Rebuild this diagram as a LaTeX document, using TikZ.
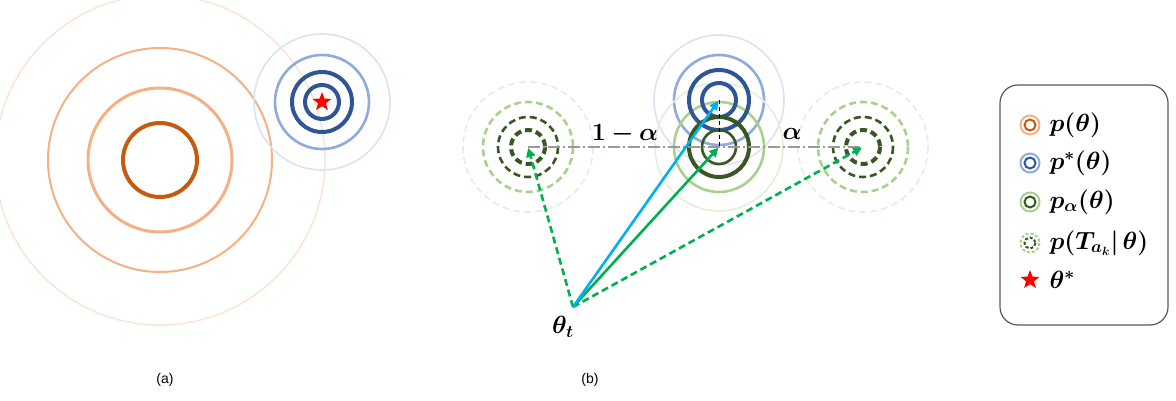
\documentclass[tikz,border=0pt]{standalone}
\usepackage{bm}
\usepackage{fontspec}
\newfontfamily\sansf{Liberation Sans}
\usetikzlibrary{shapes.geometric,arrows.meta}
\definecolor{oD}{HTML}{C55A11}\definecolor{oM}{HTML}{F4B183}\definecolor{oF}{HTML}{FBE5D6}
\definecolor{bD}{HTML}{2F5597}\definecolor{bM}{HTML}{8FAADC}\definecolor{bF}{HTML}{DAE3F3}
\definecolor{gD}{HTML}{385723}\definecolor{gM}{HTML}{A9D18E}\definecolor{gF}{HTML}{E2F0D9}
\definecolor{arG}{HTML}{00B050}\definecolor{arC}{HTML}{00B0F0}
\begin{document}
\begin{tikzpicture}[x=1pt,y=-1pt,
 thk/.style={line width=4pt},med/.style={line width=2.6pt},fnt/.style={line width=1.6pt},
 lbl/.style={font=\fontsize{23}{26}\selectfont},
 arr/.style={line width=2.6pt,-{Triangle[length=9pt,width=9pt]},shorten >=1pt},
 ds/.style={dash pattern=on 7pt off 4pt}]
\useasboundingbox (0,0) rectangle (1176,401);
% (a)
\coordinate (A) at (160,160);
\draw[oF,fnt] (A) circle (165);
\draw[oM,fnt,line width=2pt] (A) circle (112);
\draw[oM,thk,line width=3pt] (A) circle (72);
\draw[oD,thk] (A) circle (37);
\coordinate (S) at (322,102);
\draw[bF,fnt] (S) circle (68);
\draw[bM,med] (S) circle (47);
\draw[bD,thk] (S) circle (30);
\draw[bD,thk] (S) circle (17);
\node[star,star points=5,star point ratio=2.4,fill=red,inner sep=0pt,minimum size=20pt] (st) at (S) {};
\node[font=\sansf\fontsize{14}{16}\selectfont] (la) at (165,380) {(a)};
% (b)
\coordinate (L) at (528,147); \coordinate (M) at (719,147);
\coordinate (B) at (719,100); \coordinate (R) at (863,147);
\foreach \c in {L,R}{
 \draw[gF,fnt,ds] (\c) circle (65);
 \draw[gM,med,ds] (\c) circle (45);
 \draw[gD,med,ds] (\c) circle (30);
 \draw[gD,thk,ds] (\c) circle (17);}
\draw[bF,fnt] (B) circle (65);
\draw[bM,med] (B) circle (45);
\draw[gF,fnt] (M) circle (64);
\draw[gM,med] (M) circle (45);
\draw[bD,thk] (B) circle (30);
\draw[bD,thk] (B) circle (17);
\draw[gD,thk] (M) circle (30);
\draw[gD,med] (M) circle (17);
\draw[gray!80,line width=1.6pt,dash pattern=on 12pt off 3pt on 2pt off 3pt] (L) -- (R);
\draw[black,line width=0.9pt,dash pattern=on 4pt off 3pt] (B) -- (M);
\node[lbl] (t1) at (625,134) {$\bm{1-\alpha}$};
\node[lbl] (t2) at (792,134) {$\bm{\alpha}$};
\coordinate (T) at (573,307);
\node[lbl] (tl) at (563,327) {$\bm{\theta_t}$};
\draw[arr,arG,ds] (T) -- (L);
\draw[arr,arG,ds] (T) -- (R);
\draw[arr,arG] (T) -- (M);
\draw[arr,arC] (T) -- (B);
\node[font=\sansf\fontsize{14}{16}\selectfont] (lb) at (590,380) {(b)};
% legend
\node[draw=gray!70!black,line width=1.2pt,rounded corners=18pt,minimum width=168pt,minimum height=240pt] (box) at (1084,205) {};
\foreach \y/\o/\i/\t [count=\k] in {125/oM/oD/{p(\theta)},163/bM/bD/{p^*(\theta)},202/gM/gD/{p_\alpha(\theta)}}{
 \draw[\o,line width=2pt] (1030,\y) circle (9.5);
 \draw[\i,line width=2pt] (1030,\y) circle (5.5);
 \node[lbl,anchor=west] (e\k) at (1046,\y) {$\bm{\t}$};}
\draw[gM,line width=2pt,dash pattern=on 3pt off 2pt] (1030,243) circle (9.5);
\draw[gD,line width=2pt,dash pattern=on 3pt off 2pt] (1030,243) circle (5.5);
\node[lbl,anchor=west] (e4) at (1046,243) {$\bm{p\bigl(T_{a_k}\big|\,\theta\bigr)}$};
\node[star,star points=5,star point ratio=2.4,fill=red,inner sep=0pt,minimum size=20pt] (ls) at (1030,280) {};
\node[lbl,anchor=west] (e5) at (1046,280) {$\bm{\theta^*}$};
\end{tikzpicture}
\end{document}
